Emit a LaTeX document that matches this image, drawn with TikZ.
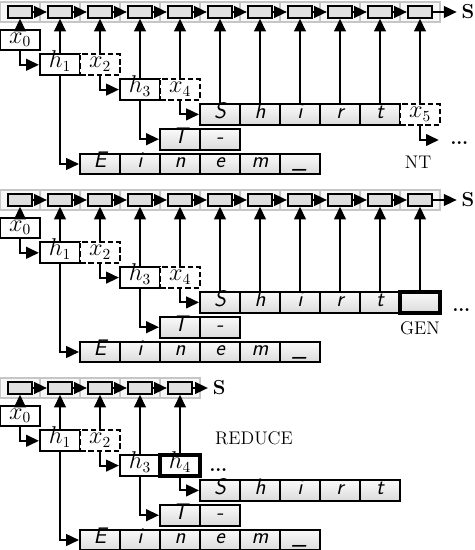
\documentclass[tikz,border=0pt]{standalone}
\usetikzlibrary{arrows.meta, positioning}

\begin{document}
\begin{tikzpicture}[
    % Define styles
    slot/.style={rectangle, draw=gray!45, fill=gray!6, line width=0.9pt, minimum width=1cm, minimum height=0.5cm, inner sep=0pt},
    stackcell/.style={rectangle, draw, line width=1.5pt, fill=gray!25, minimum width=0.6cm, minimum height=0.28cm, inner sep=0pt},
    hbox/.style={rectangle, draw, line width=1.5pt, fill=white, minimum width=1cm, minimum height=0.52cm, inner sep=0pt, text height=1.5ex, text depth=0.5ex, font=\fontsize{16}{18}\selectfont},
    xbox/.style={hbox, dash pattern=on 4pt off 2pt},
    focus/.style={line width=3pt},
    charbox/.style={rectangle, draw, line width=1.4pt, top color=gray!4, bottom color=gray!28, minimum width=1cm, minimum height=0.52cm, inner sep=0pt, text height=1.6ex, text depth=0.3ex, font=\fontsize{16}{18}\selectfont\sffamily\itshape},
    action/.style={font=\fontsize{13}{15}\selectfont},
    dots/.style={font=\Huge},
    arrow/.style={line width=1.5pt, -{Triangle[length=3.2mm, width=2.9mm]}}
]
\useasboundingbox (0,0) rectangle (11.85,-13.75);

% ---------- Panel 1: NT ----------
% Stack
\foreach \i in {0,...,10} {
    \node[slot] at ({0.5+\i},-0.3) {};
    \node[stackcell] (a\i) at ({0.5+\i},-0.3) {};
}
\foreach \i [count=\j from 1] in {0,...,9}
    \draw[arrow] (a\i) -- (a\j);
\node[font=\Large\bfseries] (aout) at (11.7,-0.3) {S};
\draw[arrow] (a10) -- (aout);

% Buffer
\node[hbox] (ax0) at (0.5,-1.0) {$x_0$};
\node[hbox] (ah1) at (1.5,-1.62) {$h_1$};
\node[xbox] (ax2) at (2.5,-1.62) {$x_2$};
\node[hbox] (ah3) at (3.5,-2.24) {$h_3$};
\node[xbox] (ax4) at (4.5,-2.24) {$x_4$};

% Words
\node[charbox] (aS) at (5.5,-2.86) {S};
\node[charbox] (ah) at (6.5,-2.86) {h};
\node[charbox] (ai) at (7.5,-2.86) {i};
\node[charbox] (ar) at (8.5,-2.86) {r};
\node[charbox] (at) at (9.5,-2.86) {t};
\node[xbox] (ax5) at (10.5,-2.86) {$x_5$};

\node[charbox] (aT) at (4.5,-3.48) {T};
\node[charbox] (adash) at (5.5,-3.48) {-};

\node[charbox] (aE) at (2.5,-4.10) {E};
\node[charbox] (ai2) at (3.5,-4.10) {i};
\node[charbox] (an) at (4.5,-4.10) {n};
\node[charbox] (ae) at (5.5,-4.10) {e};
\node[charbox] (am) at (6.5,-4.10) {m};
\node[charbox] (aus) at (7.5,-4.10) {\_};

% Connect to stack
\draw[arrow] (ax0) -- (a0);
\draw[arrow] (ah1) -- (a1);
\draw[arrow] (ax2) -- (a2);
\draw[arrow] (ah3) -- (a3);
\draw[arrow] (ax4) -- (a4);
\draw[arrow] (aS) -- (a5);
\draw[arrow] (ah) -- (a6);
\draw[arrow] (ai) -- (a7);
\draw[arrow] (ar) -- (a8);
\draw[arrow] (at) -- (a9);
\draw[arrow] (ax5) -- (a10);

% Connect down the buffer
\draw[arrow] (ax0.south) |- (ah1.west);
\draw[arrow] (ah1.south) |- (aE.west);
\draw[arrow] (ax2.south) |- (ah3.west);
\draw[arrow] (ah3.south) |- (aT.west);
\draw[arrow] (ax4.south) |- (aS.west);
\coordinate (anext) at (10.97,-3.5);
\draw[arrow] (ax5.south) |- (anext);
\node[dots] (adots) at (11.5,-3.58) {\dots};
\node[action] (alabel) at (10.45,-4.05) {NT};

% ---------- Panel 2: GEN ----------
% Stack
\foreach \i in {0,...,10} {
    \node[slot] at ({0.5+\i},-5.0) {};
    \node[stackcell] (b\i) at ({0.5+\i},-5.0) {};
}
\foreach \i [count=\j from 1] in {0,...,9}
    \draw[arrow] (b\i) -- (b\j);
\node[font=\Large\bfseries] (bout) at (11.7,-5.0) {S};
\draw[arrow] (b10) -- (bout);

% Buffer
\node[hbox] (bx0) at (0.5,-5.7) {$x_0$};
\node[hbox] (bh1) at (1.5,-6.32) {$h_1$};
\node[xbox] (bx2) at (2.5,-6.32) {$x_2$};
\node[hbox] (bh3) at (3.5,-6.94) {$h_3$};
\node[xbox] (bx4) at (4.5,-6.94) {$x_4$};

% Words
\node[charbox] (bS) at (5.5,-7.56) {S};
\node[charbox] (bh) at (6.5,-7.56) {h};
\node[charbox] (bi) at (7.5,-7.56) {i};
\node[charbox] (br) at (8.5,-7.56) {r};
\node[charbox] (bt) at (9.5,-7.56) {t};
\node[charbox, focus] (bgen) at (10.5,-7.56) {};

\node[charbox] (bT) at (4.5,-8.18) {T};
\node[charbox] (bdash) at (5.5,-8.18) {-};

\node[charbox] (bE) at (2.5,-8.80) {E};
\node[charbox] (bi2) at (3.5,-8.80) {i};
\node[charbox] (bn) at (4.5,-8.80) {n};
\node[charbox] (be) at (5.5,-8.80) {e};
\node[charbox] (bm) at (6.5,-8.80) {m};
\node[charbox] (bus) at (7.5,-8.80) {\_};

% Connect to stack
\draw[arrow] (bx0) -- (b0);
\draw[arrow] (bh1) -- (b1);
\draw[arrow] (bx2) -- (b2);
\draw[arrow] (bh3) -- (b3);
\draw[arrow] (bx4) -- (b4);
\draw[arrow] (bS) -- (b5);
\draw[arrow] (bh) -- (b6);
\draw[arrow] (bi) -- (b7);
\draw[arrow] (br) -- (b8);
\draw[arrow] (bt) -- (b9);
\draw[arrow] (bgen) -- (b10);

% Connect down the buffer
\draw[arrow] (bx0.south) |- (bh1.west);
\draw[arrow] (bh1.south) |- (bE.west);
\draw[arrow] (bx2.south) |- (bh3.west);
\draw[arrow] (bh3.south) |- (bT.west);
\draw[arrow] (bx4.south) |- (bS.west);
\node[dots] (bdots) at (11.55,-7.74) {\dots};
\node[action, below=0.05cm of bgen] (blabel) {GEN};

% ---------- Panel 3: REDUCE ----------
% Stack
\foreach \i in {0,...,4} {
    \node[slot] at ({0.5+\i},-9.7) {};
    \node[stackcell] (c\i) at ({0.5+\i},-9.7) {};
}
\foreach \i [count=\j from 1] in {0,...,3}
    \draw[arrow] (c\i) -- (c\j);
\node[font=\Large\bfseries] (cout) at (5.48,-9.7) {S};
\draw[arrow] (c4) -- (cout);

% Buffer
\node[hbox] (cx0) at (0.5,-10.4) {$x_0$};
\node[hbox] (ch1) at (1.5,-11.02) {$h_1$};
\node[xbox] (cx2) at (2.5,-11.02) {$x_2$};
\node[hbox] (ch3) at (3.5,-11.64) {$h_3$};
\node[hbox, focus] (ch4) at (4.5,-11.64) {$h_4$};

% Words
\node[charbox] (cS) at (5.5,-12.26) {S};
\node[charbox] (ch) at (6.5,-12.26) {h};
\node[charbox] (ci) at (7.5,-12.26) {i};
\node[charbox] (cr) at (8.5,-12.26) {r};
\node[charbox] (ct) at (9.5,-12.26) {t};

\node[charbox] (cT) at (4.5,-12.88) {T};
\node[charbox] (cdash) at (5.5,-12.88) {-};

\node[charbox] (cE) at (2.5,-13.50) {E};
\node[charbox] (ci2) at (3.5,-13.50) {i};
\node[charbox] (cn) at (4.5,-13.50) {n};
\node[charbox] (ce) at (5.5,-13.50) {e};
\node[charbox] (cm) at (6.5,-13.50) {m};
\node[charbox] (cus) at (7.5,-13.50) {\_};

% Connect to stack
\draw[arrow] (cx0) -- (c0);
\draw[arrow] (ch1) -- (c1);
\draw[arrow] (cx2) -- (c2);
\draw[arrow] (ch3) -- (c3);
\draw[arrow] (ch4) -- (c4);

% Connect down the buffer
\draw[arrow] (cx0.south) |- (ch1.west);
\draw[arrow] (ch1.south) |- (cE.west);
\draw[arrow] (cx2.south) |- (ch3.west);
\draw[arrow] (ch3.south) |- (cT.west);
\draw[arrow] (ch4.south) |- (cS.west);
\node[dots] (cdots) at (5.47,-11.74) {\dots};
\node[action] (clabel) at (6.35,-10.95) {REDUCE};

\end{tikzpicture}
\end{document}
